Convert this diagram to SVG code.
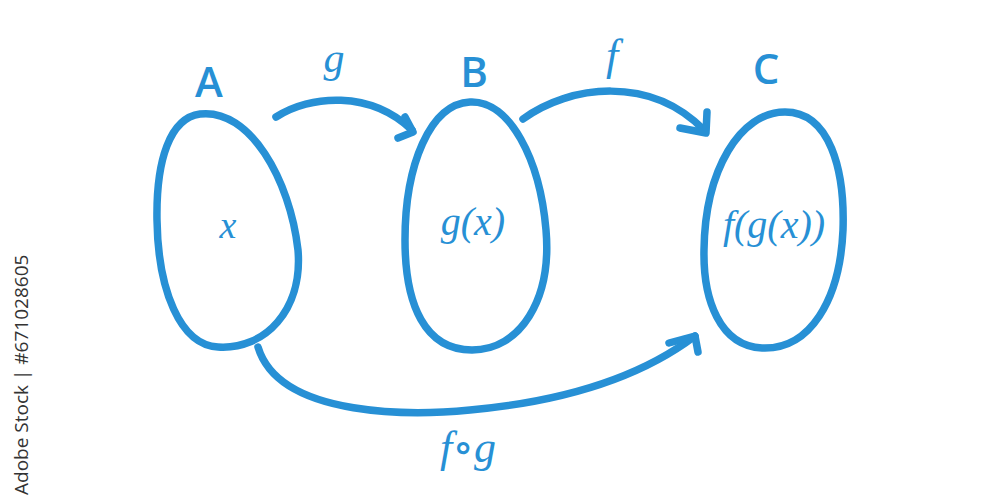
<svg xmlns="http://www.w3.org/2000/svg" width="1000" height="502" viewBox="0 0 1000 502">
<style>
.ln{fill:none;stroke:#2790d5;stroke-width:7.5;stroke-linecap:round;stroke-linejoin:round}
.lbl{font-family:"Open Sans","Liberation Sans",sans-serif;font-weight:600;fill:#2790d5;text-anchor:middle}
.m{font-family:"Liberation Serif","DejaVu Serif",serif;font-style:italic;fill:#2790d5;text-anchor:middle}
</style>
<rect width="1000" height="502" fill="#ffffff"/>
<g id="nodeA">
<path class="ln" d="M 200,114 C 250,108 290,180 298,250 C 303,310 265,350 218,347 C 180,345 158,290 157,220 C 156,160 170,118 200,114 Z"/>
<text class="lbl" x="209" y="97" font-size="42">A</text>
<text class="m" x="228" y="238" font-size="38">x</text>
</g>
<g id="nodeB">
<path class="ln" d="M 470,102 C 510,100 540,160 546,230 C 552,300 520,350 472,350 C 425,350 405,305 405,240 C 405,165 430,104 470,102 Z"/>
<text class="lbl" x="474" y="87" font-size="42">B</text>
<text class="m" x="473" y="235" font-size="40">g(x)</text>
</g>
<g id="nodeC">
<path class="ln" d="M 785,112 C 830,112 845,170 843,230 C 840,300 810,350 762,348 C 720,346 703,300 704,250 C 705,170 740,112 785,112 Z"/>
<text class="lbl" x="766" y="84" font-size="42">C</text>
<text class="m" x="774" y="238" font-size="40">f(g(x))</text>
</g>
<g id="connectors">
<path class="ln" d="M 276,117 C 310,95 370,90 412,130"/>
<path class="ln" d="M 405,117 L 413,132 L 398,138"/>
<text class="m" x="334" y="72" font-size="42">g</text>
<path class="ln" d="M 523,119 C 570,85 650,75 704,130"/>
<path class="ln" d="M 680,128 L 706,133 L 707,112"/>
<text class="m" x="612" y="70" font-size="44">f</text>
<path class="ln" d="M 258,347 C 280,420 420,415 470,410 C 580,400 650,370 695,336"/>
<path class="ln" d="M 669,343 L 695,336 L 698,352"/>
<text class="m" x="468" y="462" font-size="44">f∘g</text>
</g>
<text x="28" y="495" transform="rotate(-90 28 495)" font-family="'Open Sans','Liberation Sans',sans-serif" font-size="19" fill="#333333">Adobe Stock | #671028605</text>
</svg>
